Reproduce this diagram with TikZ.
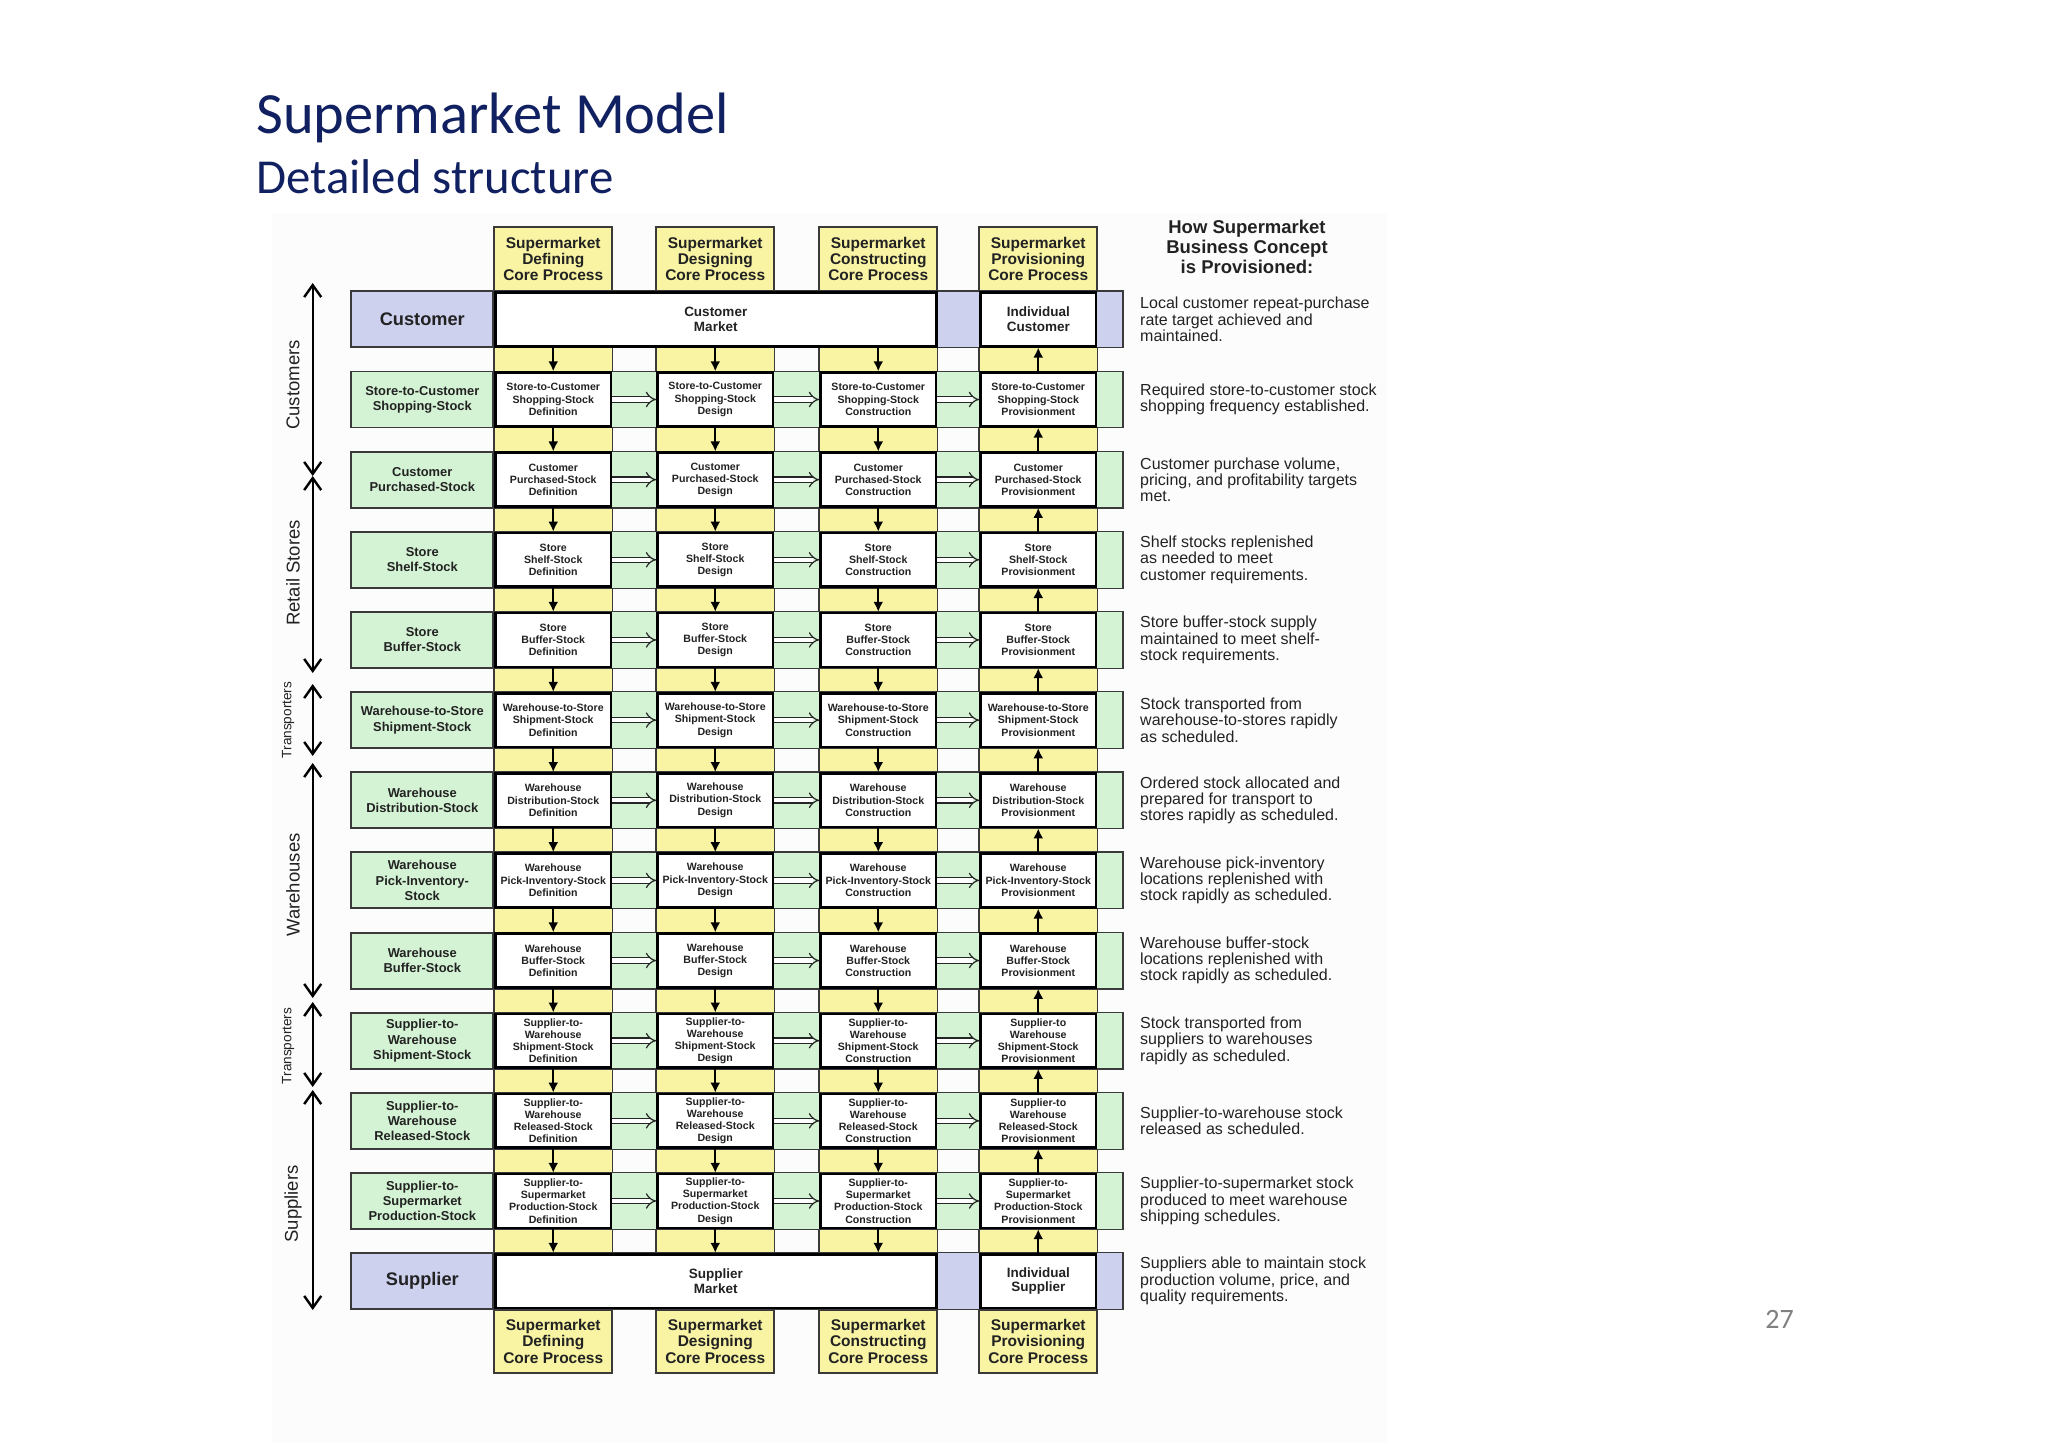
\documentclass[tikz,border=0pt]{standalone}
\usepackage{fontspec}
\setmainfont{Liberation Sans}
\newfontfamily\calib{Carlito}
\usetikzlibrary{arrows.meta,calc}
\definecolor{lav}{HTML}{CED1EE}
\definecolor{grn}{HTML}{D4F3D4}
\definecolor{yel}{HTML}{F8F4A4}
\definecolor{navy}{HTML}{102060}
\definecolor{edge}{HTML}{3A3A3A}
\definecolor{txt}{HTML}{222222}
\newcommand\smrow[5]{%
  \pgfmathsetmacro\yc{319.35+80.15*#1}%
  \pgfmathsetmacro\yt{291+80.15*#1}%
  \draw[band] (350.6,\yt) rectangle (1123,\yt+56.7);
  \node[lab,fill=grn] (l-#1) at (422.3,\yc) {#2};
  \node[cell] (c-#1-1) at (553.25,\yc) {#3\\Definition};
  \node[cell] (c-#1-2) at (715.25,\yc) {#3\\Design};
  \node[cell] (c-#1-3) at (878.25,\yc) {#3\\Construction};
  \node[cell] (c-#1-4) at (1038.25,\yc) {#4\\Provisionment};
  \node[desc] (d-#1) at (1140,\yc) {#5};
}
\begin{document}
\begin{tikzpicture}[x=1pt,y=-1pt,
  cell/.style={draw=black, line width=2.6pt, fill=white, minimum width=115.5pt, minimum height=53.8pt, inner sep=0pt, align=center, font=\fontsize{10.6}{12.2}\selectfont\bfseries, text=txt},
  big/.style={font=\fontsize{13.5}{14.5}\selectfont\bfseries},
  lab/.style={draw=edge, line width=1.3pt, minimum width=141.6pt, minimum height=55.4pt, inner sep=0pt, align=center, font=\fontsize{12.9}{15.2}\selectfont\bfseries, text=txt},
  band/.style={draw=edge, line width=1.2pt, fill=grn},
  hdr/.style={draw=edge, line width=1.3pt, fill=yel, minimum width=117.2pt, minimum height=62.7pt, inner sep=0pt, align=center, font=\fontsize{15.5}{16.3}\selectfont\bfseries, text=txt},
  desc/.style={anchor=west, align=left, inner sep=0pt, font=\fontsize{16}{16.3}\selectfont, text=txt},
  down/.style={-{Latex[length=10pt,width=10pt]}, line width=2pt, draw=black},
  flow/.style={draw=black!85, double=white, double distance=4.2pt, line width=1.2pt, -{Implies[scale=1.7]}},
  axis/.style={line width=2.4pt, {Straight Barb[length=12pt,width=17pt]}-{Straight Barb[length=12pt,width=17pt]}},
  side/.style={rotate=90, inner sep=0pt, font=\fontsize{18.5}{20}\selectfont, text=txt},
  sidesm/.style={rotate=90, inner sep=0pt, font=\fontsize{13.6}{15}\selectfont, text=txt},
]
\useasboundingbox (0,0) rectangle (2048,1447);
\fill[white] (0,0) rectangle (2048,1447);
\fill[black!1.2] (272,213) rectangle (1387,1443);

% title
\node[anchor=base west, inner sep=0pt, font=\calib\fontsize{58.4}{60}\selectfont, text=navy] (title) at (256,133.5) {Supermarket Model};
\node[anchor=base west, inner sep=0pt, font=\calib\fontsize{48.8}{50}\selectfont, text=navy] (subtitle) at (256,193.5) {Detailed structure};
\node[anchor=base, inner sep=0pt, font=\calib\fontsize{28}{30}\selectfont, text=black!50] (pg) at (1779.5,1328) {27};

% yellow column strips and headers
\foreach \l/\nm/\tx in {494/1/Defining, 656/2/Designing, 819/3/Constructing, 979/4/Provisioning}{
  \draw[draw=edge, line width=1.3pt, fill=yel] (\l,227) rectangle (\l+118.5,1373);
  \node[hdr] (h-\nm) at (\l+59.25,259) {Supermarket\\\tx\\Core Process};
  \node[hdr] (b-\nm) at (\l+59.25,1341.2) {Supermarket\\\tx\\Core Process};
}

% customer row
\draw[band, fill=lav] (350.6,291) rectangle (1123,347.7);
\node[lab, fill=lav, font=\fontsize{18.2}{20}\selectfont\bfseries] (l-0) at (422.3,319.35) {Customer};
\node[cell, big, minimum width=441pt] (m-0) at (715.75,319.35) {Customer\\Market};
\node[cell, big] (c-0-4) at (1038.25,319.35) {Individual\\Customer};
\node[desc] (d-0) at (1140,319.35) {Local customer repeat-purchase\\rate target achieved and\\maintained.};

\smrow{1}{Store-to-Customer\\Shopping-Stock}{Store-to-Customer\\Shopping-Stock}{Store-to-Customer\\Shopping-Stock}{Required store-to-customer stock\\shopping frequency established.}
\smrow{2}{Customer\\Purchased-Stock}{Customer\\Purchased-Stock}{Customer\\Purchased-Stock}{Customer purchase volume,\\pricing, and profitability targets\\met.}
\smrow{3}{Store\\Shelf-Stock}{Store\\Shelf-Stock}{Store\\Shelf-Stock}{Shelf stocks replenished\\as needed to meet\\customer requirements.}
\smrow{4}{Store\\Buffer-Stock}{Store\\Buffer-Stock}{Store\\Buffer-Stock}{Store buffer-stock supply\\maintained to meet shelf-\\stock requirements.}
\smrow{5}{Warehouse-to-Store\\Shipment-Stock}{Warehouse-to-Store\\Shipment-Stock}{Warehouse-to-Store\\Shipment-Stock}{Stock transported from\\warehouse-to-stores rapidly\\as scheduled.}
\smrow{6}{Warehouse\\Distribution-Stock}{Warehouse\\Distribution-Stock}{Warehouse\\Distribution-Stock}{Ordered stock allocated and\\prepared for transport to\\stores rapidly as scheduled.}
\smrow{7}{Warehouse\\Pick-Inventory-\\Stock}{Warehouse\\Pick-Inventory-Stock}{Warehouse\\Pick-Inventory-Stock}{Warehouse pick-inventory\\locations replenished with\\stock rapidly as scheduled.}
\smrow{8}{Warehouse\\Buffer-Stock}{Warehouse\\Buffer-Stock}{Warehouse\\Buffer-Stock}{Warehouse buffer-stock\\locations replenished with\\stock rapidly as scheduled.}
\smrow{9}{Supplier-to-\\Warehouse\\Shipment-Stock}{Supplier-to-\\Warehouse\\Shipment-Stock}{Supplier-to\\Warehouse\\Shipment-Stock}{Stock transported from\\suppliers to warehouses\\rapidly as scheduled.}
\smrow{10}{Supplier-to-\\Warehouse\\Released-Stock}{Supplier-to-\\Warehouse\\Released-Stock}{Supplier-to\\Warehouse\\Released-Stock}{Supplier-to-warehouse stock\\released as scheduled.}
\smrow{11}{Supplier-to-\\Supermarket\\Production-Stock}{Supplier-to-\\Supermarket\\Production-Stock}{Supplier-to-\\Supermarket\\Production-Stock}{Supplier-to-supermarket stock\\produced to meet warehouse\\shipping schedules.}

% supplier row
\draw[band, fill=lav] (350.6,1252.8) rectangle (1123,1309.5);
\node[lab, fill=lav, font=\fontsize{18.2}{20}\selectfont\bfseries] (l-12) at (422.3,1281.15) {Supplier};
\node[cell, big, minimum width=441pt] (m-12) at (715.75,1281.15) {Supplier\\Market};
\node[cell, big] (c-12-4) at (1038.25,1281.15) {Individual\\Supplier};
\node[desc] (d-12) at (1140,1281.15) {Suppliers able to maintain stock\\production volume, price, and\\quality requirements.};

% right header
\node[align=center, inner sep=0pt, font=\fontsize{18.5}{20}\selectfont\bfseries, text=txt] (how) at (1247,247) {How Supermarket\\Business Concept\\is Provisioned:};

% market coordinates
\foreach \k/\x in {1/553.25,2/715.25,3/878.25}{
  \coordinate (m0-\k) at (\x,347.7);
  \coordinate (m12-\k) at (\x,1252.8);
}

% vertical arrows (columns 1-3 downward)
\foreach \k in {1,2,3}{
  \draw[down] (m0-\k) -- (c-1-\k.north);
  \foreach \r in {1,...,10}{
    \pgfmathtruncatemacro\rn{\r+1}
    \draw[down] (c-\r-\k.south) -- (c-\rn-\k.north);
  }
  \draw[down] (c-11-\k.south) -- (m12-\k);
}
% column 4 upward
\foreach \r in {0,...,11}{
  \pgfmathtruncatemacro\rn{\r+1}
  \draw[down] (c-\rn-4.north) -- (c-\r-4.south);
}

% horizontal flow arrows
\foreach \r in {1,...,11}{
  \foreach \k/\kn in {1/2,2/3,3/4}{
    \draw[flow] (c-\r-\k.east) -- (c-\r-\kn.west);
  }
}

% left axis
\coordinate (a1) at (312.7,283);
\coordinate (a2) at (312.7,476);
\coordinate (a3) at (312.7,476);
\coordinate (a4) at (312.7,673);
\coordinate (a5) at (312.7,684);
\coordinate (a6) at (312.7,756);
\coordinate (a7) at (312.7,763);
\coordinate (a8) at (312.7,998);
\coordinate (a9) at (312.7,1002);
\coordinate (a10) at (312.7,1087);
\coordinate (a11) at (312.7,1090);
\coordinate (a12) at (312.7,1310);
\draw[axis] (a1) -- (a2);
\draw[axis] (a3) -- (a4);
\draw[axis] (a5) -- (a6);
\draw[axis] (a7) -- (a8);
\draw[axis] (a9) -- (a10);
\draw[axis] (a11) -- (a12);

\node[side] (s1) at (293,385) {Customers};
\node[side] (s2) at (293,573) {Retail Stores};
\node[sidesm] (s3) at (288,720) {Transporters};
\node[side] (s4) at (293,885) {Warehouses};
\node[sidesm] (s5) at (288,1046) {Transporters};
\node[side] (s6) at (293,1204) {Suppliers};
\end{tikzpicture}
\end{document}
